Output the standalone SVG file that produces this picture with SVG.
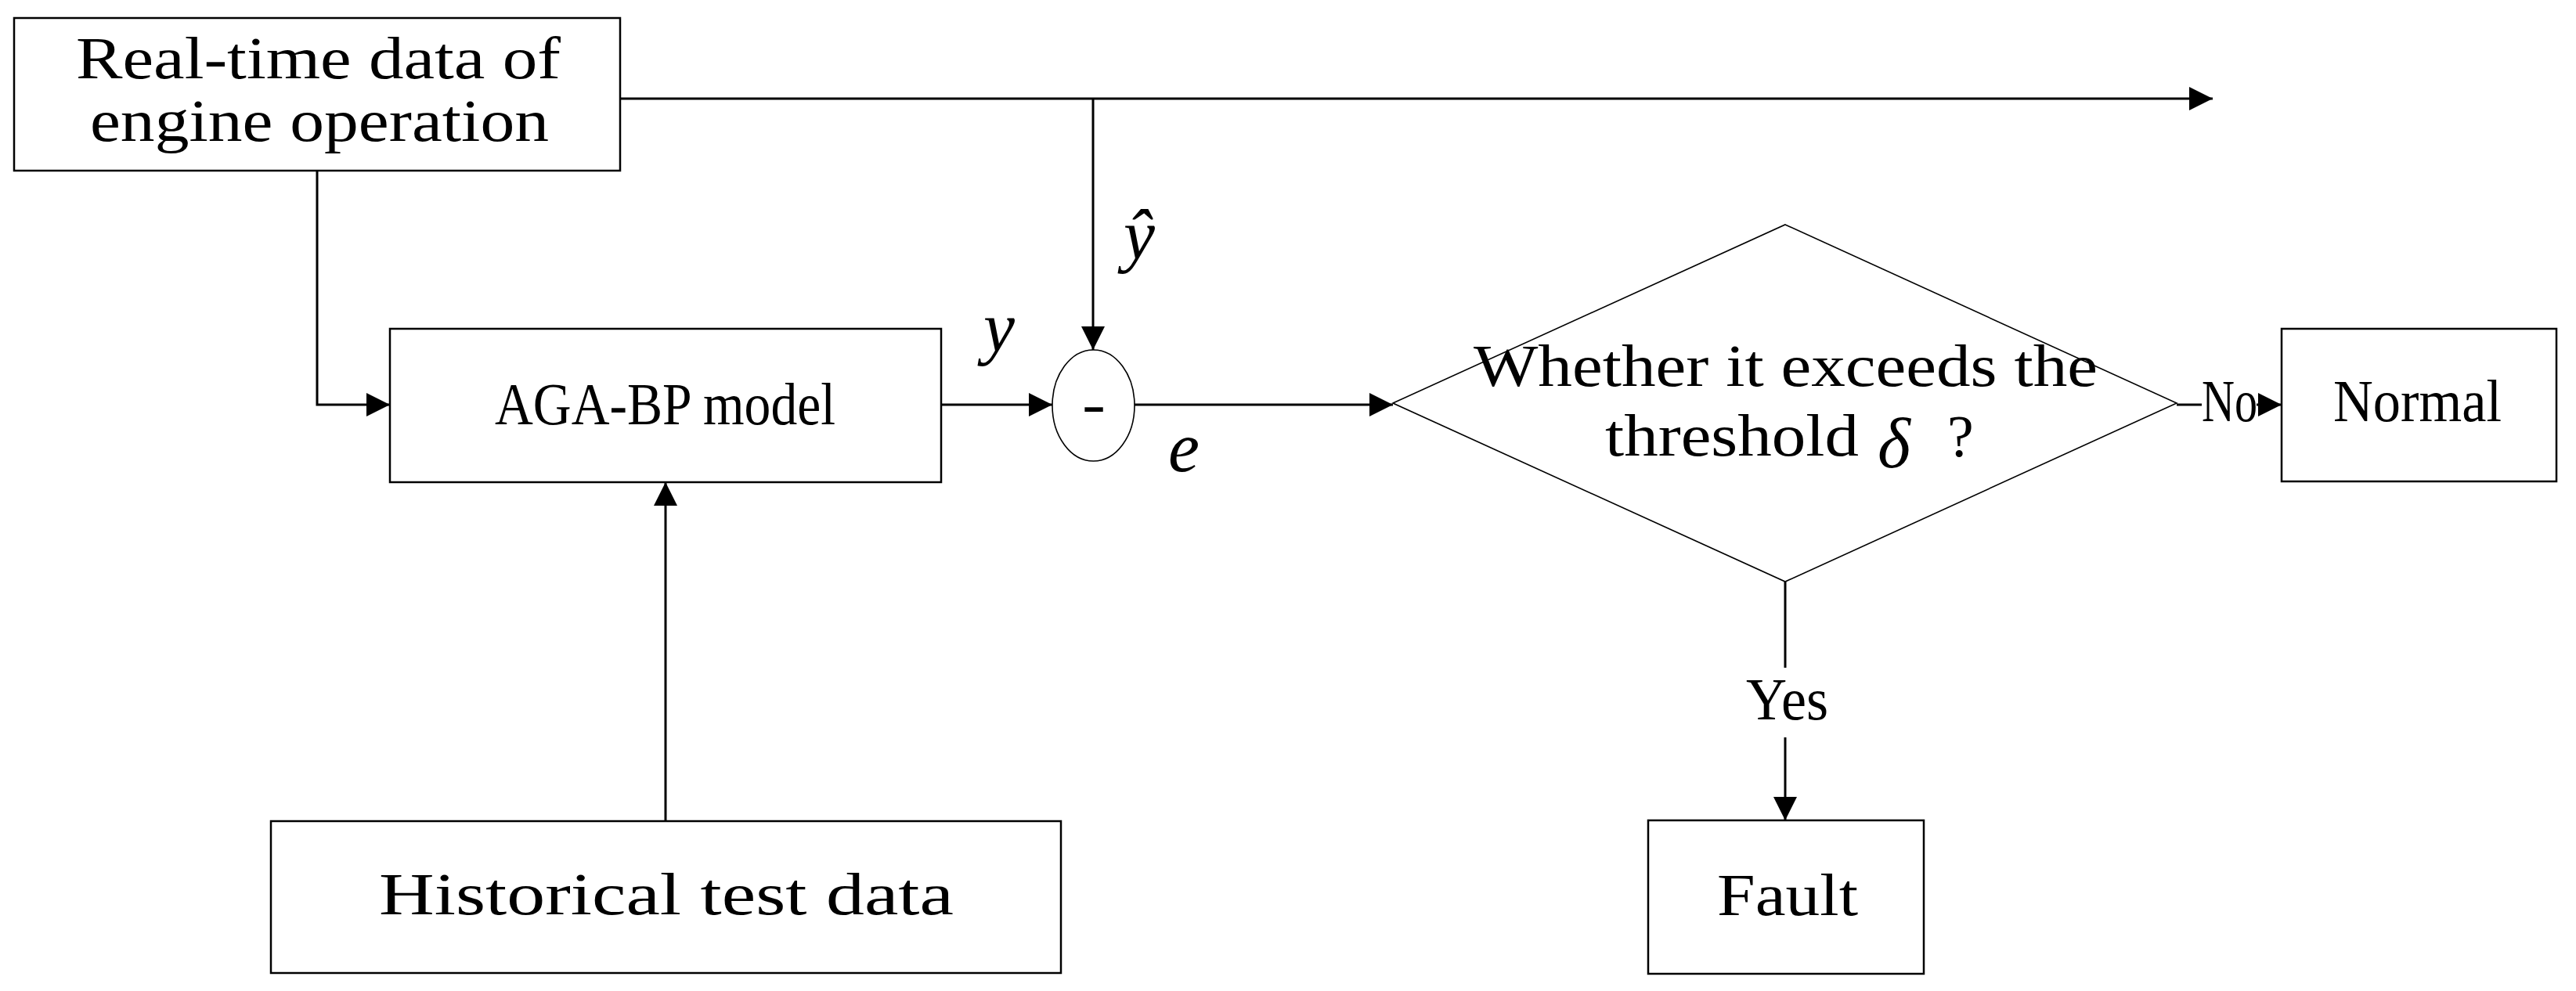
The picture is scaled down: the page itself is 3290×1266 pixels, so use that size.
<svg xmlns="http://www.w3.org/2000/svg" width="3290" height="1266" viewBox="0 0 3290 1266">
<style>
.box{fill:#fff;stroke:#000;stroke-width:2.5}
.thin{fill:#fff;stroke:#000;stroke-width:1.6}
.conn{fill:none;stroke:#000;stroke-width:3}
.t{font-family:"Liberation Serif","Times New Roman",serif;font-size:76px;fill:#000}
.m{font-family:"Liberation Serif","Times New Roman",serif;font-style:italic;font-size:90px;fill:#000}
</style>
<defs>
<marker id="arr" markerUnits="userSpaceOnUse" markerWidth="30" markerHeight="30" refX="30" refY="15" orient="auto">
<path d="M0,0 L30,15 L0,30 Z" fill="#000"/>
</marker>
</defs>
<rect width="3290" height="1266" fill="#fff"/>
<g id="connectors">
<path class="conn" d="M792,126 H2826" marker-end="url(#arr)"/>
<path class="conn" d="M1396,126 V447" marker-end="url(#arr)"/>
<path class="conn" d="M405,218 V517 H498" marker-end="url(#arr)"/>
<path class="conn" d="M1202,517 H1344" marker-end="url(#arr)"/>
<path class="conn" d="M1449,517 H1779" marker-end="url(#arr)"/>
<path class="conn" d="M2780,517 H2812"/>
<path class="conn" d="M2882,517 H2914" marker-end="url(#arr)"/>
<path class="conn" d="M2280,743 V853"/>
<path class="conn" d="M2280,942 V1048" marker-end="url(#arr)"/>
<path class="conn" d="M850,1049 V616" marker-end="url(#arr)"/>
<text class="t" x="2812" y="538" textLength="71" lengthAdjust="spacingAndGlyphs">No</text>
<text class="t" x="2230" y="919" textLength="105" lengthAdjust="spacingAndGlyphs">Yes</text>
<text class="m" x="1256" y="449">y</text>
<text class="m" x="1435" y="331">ŷ</text>
<text class="m" x="1492" y="602">e</text>
</g>
<g id="realtime">
<rect class="box" x="18" y="23" width="774" height="195"/>
<text class="t" x="97" y="100" textLength="619" lengthAdjust="spacingAndGlyphs">Real-time data of</text>
<text class="t" x="115" y="180" textLength="586" lengthAdjust="spacingAndGlyphs">engine operation</text>
</g>
<g id="agabp">
<rect class="box" x="498" y="420" width="704" height="196"/>
<text class="t" x="632" y="542" textLength="435" lengthAdjust="spacingAndGlyphs">AGA-BP model</text>
</g>
<g id="historical">
<rect class="box" x="346" y="1049" width="1009" height="194"/>
<text class="t" x="484" y="1168" textLength="734" lengthAdjust="spacingAndGlyphs">Historical test data</text>
</g>
<g id="subtract">
<ellipse class="thin" cx="1396.5" cy="518" rx="52.5" ry="71"/>
<text class="t" x="1382" y="541" textLength="30" lengthAdjust="spacingAndGlyphs">-</text>
</g>
<g id="decision">
<polygon class="thin" points="2280,287 2780,515 2280,743 1779,515"/>
<text class="t" x="1882" y="493" textLength="797" lengthAdjust="spacingAndGlyphs">Whether it exceeds the</text>
<text class="t" x="2050" y="582" textLength="324" lengthAdjust="spacingAndGlyphs">threshold</text>
<text class="m" x="2398" y="597">δ</text>
<text class="t" x="2487" y="583">?</text>
</g>
<g id="normal">
<rect class="box" x="2914" y="420" width="351" height="195"/>
<text class="t" x="2980" y="538" textLength="215" lengthAdjust="spacingAndGlyphs">Normal</text>
</g>
<g id="fault">
<rect class="box" x="2105" y="1048" width="352" height="196"/>
<text class="t" x="2193" y="1169" textLength="180" lengthAdjust="spacingAndGlyphs">Fault</text>
</g>
</svg>
